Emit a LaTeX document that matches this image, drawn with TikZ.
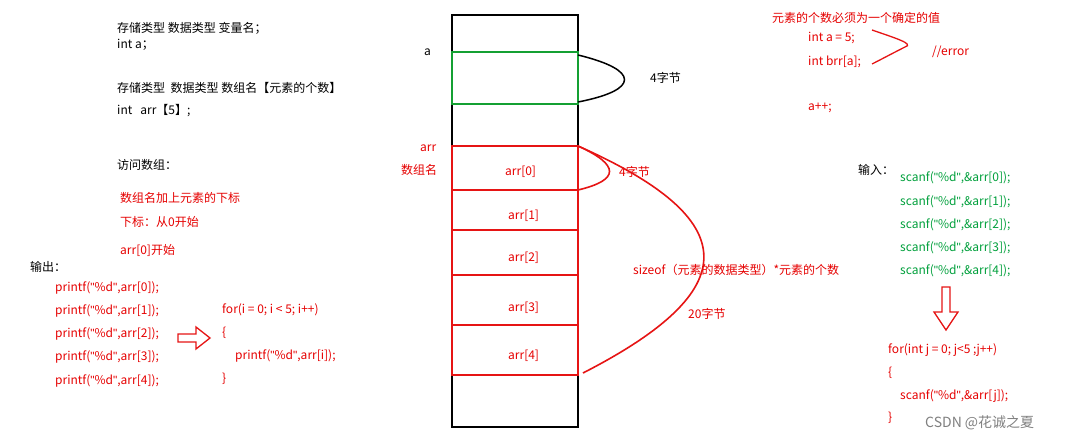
\documentclass[tikz,border=0pt]{standalone}
\usepackage{fontspec}
\setmainfont{Noto Sans CJK SC}
\newfontfamily\latq{Liberation Sans}
\newcommand{\qq}{{\latq"}}
\begin{document}
\begin{tikzpicture}[x=1pt,y=-1pt,
  t/.style={anchor=west,inner sep=0pt,font=\fontsize{12}{13}\selectfont},
  r/.style={t,text={rgb,255:red,230;green,0;blue,0}},
  g/.style={t,text={rgb,255:red,0;green,160;blue,60}},
  rl/.style={draw={rgb,255:red,230;green,20;blue,20},line width=1.6pt},
  ]
\useasboundingbox[fill=white] (0,0) rectangle (1077,441);
% left texts
\node[t] (l1) at (117,28) {存储类型 数据类型 变量名；};
\node[t] (l2) at (117,45) {int a；};
\begin{scope}
\clip (0,0) rectangle (361,441);
\node[t] (l3) at (117,88) {存储类型\ \ 数据类型 数组名【元素的个数】};
\end{scope}
\node[t] (l4) at (117,111) {int\ \ \ arr【5】;};
\node[t] (l5) at (117,165) {访问数组：};
\node[r] (l6) at (120,198) {数组名加上元素的下标};
\node[r] (l7) at (120,222) {下标：从0开始};
\node[r] (l8) at (120,250) {arr[0]开始};
\node[t] (out) at (30,267) {输出：};
\foreach \i/\y in {0/288,1/311,2/334,3/357,4/381}
  \node[r] (p\i) at (55,\y) {printf(\qq\%d\qq,arr[\i]);};
\draw[rl,line width=1.3pt] (178,334)--(196,334)--(196,327)--(210,338)--(196,349)--(196,342)--(178,342)--cycle;
\node[r] (f1) at (222,310) {for(i = 0; i < 5; i++)};
\node[r] (f2) at (222,333) {\{};
\node[r] (f3) at (235,356) {printf(\qq\%d\qq,arr[i]);};
\node[r] (f4) at (222,379) {\}};
% memory
\draw[line width=1.5pt] (452,15) rectangle (578,427);
\draw[line width=1.5pt,draw={rgb,255:red,20;green,160;blue,50}] (452,52) rectangle (578,104);
\node[t] (a) at (424,52) {a};
\draw[rl] (452,146) rectangle (578,375);
\foreach \y in {190,230,275,325} \draw[rl] (452,\y)--(578,\y);
\node[r] (c0) at (505,172) {arr[0]};
\node[r] (c1) at (508,216) {arr[1]};
\node[r] (c2) at (508,258) {arr[2]};
\node[r] (c3) at (508,308) {arr[3]};
\node[r] (c4) at (508,356) {arr[4]};
\node[r] (arr) at (420,148) {arr};
\node[r] (szm) at (401,170) {数组名};
\draw[line width=1.5pt] (578,55) .. controls (640,70) and (640,90) .. (578,102);
\node[t] (b4) at (650,78) {4字节};
\draw[rl] (578,146) .. controls (620,165) and (620,180) .. (578,190);
\node[r] (r4) at (619,172) {4字节};
\draw[rl] (578,146) .. controls (745,220) and (745,290) .. (583,373);
\node[r] (sz) at (633,270) {sizeof（元素的数据类型）*元素的个数};
\node[r] (b20) at (688,314) {20字节};
% top right
\node[r] (e1) at (772,18) {元素的个数必须为一个确定的值};
\node[r] (e2) at (808,38) {int a = 5;};
\node[r] (e3) at (808,62) {int brr[a];};
\draw[rl,line width=1.3pt] (872,30) .. controls (895,38) and (915,44) .. (905,47) .. controls (895,52) and (880,60) .. (872,64);
\node[r] (e4) at (932,52) {//error};
\node[r] (e5) at (808,108) {a++;};
% input
\node[t] (in) at (858,170) {输入：};
\foreach \i/\y in {0/178,1/202,2/225,3/248,4/271}
  \node[g] (s\i) at (900,\y) {scanf(\qq\%d\qq,\&arr[\i]);};
\draw[rl,line width=1.3pt] (942,287)--(950,287)--(950,312)--(958,312)--(946,330)--(934,312)--(942,312)--cycle;
\node[r] (g1) at (888,350) {for(int j = 0; j<5 ;j++)};
\node[r] (g2) at (888,373) {\{};
\node[r] (g3) at (900,396) {scanf(\qq\%d\qq,\&arr[j]);};
\node[r] (g4) at (888,418) {\}};
\node[t,text=gray,font=\fontsize{14}{15}\selectfont] (wm) at (925,423) {CSDN @花诚之夏};
\end{tikzpicture}
\end{document}
